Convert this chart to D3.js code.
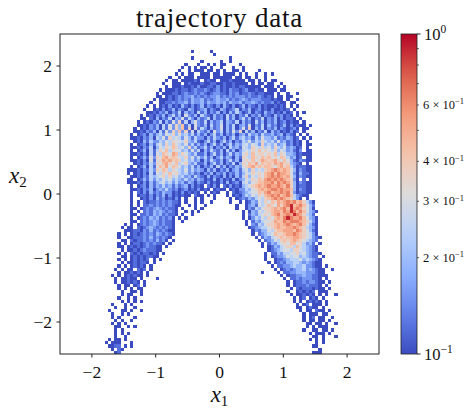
<!DOCTYPE html>
<html>
<head>
<meta charset="utf-8">
<script src="https://cdn.jsdelivr.net/npm/d3@7"></script>
<style>
  body { margin: 0; background: #fff; }
  text { font-family: "Liberation Serif", "DejaVu Serif", serif; fill: #111; }
</style>
</head>
<body>
<svg id="chart" width="474" height="415"></svg>
<script>
// 2d histogram, 100 x 100 bins on [-2.5, 2.5] x [-2.5, 2.5]
const xDomain = [-2.5, 2.5];
const yDomain = [-2.5, 2.5];
const binWidth = 0.05;
const colorDomain = [0.1, 1];

// level codes used in the row strings ('.' = empty bin) and their values
const levelCodes = "0123456789a";
const levelValues = [0.10, 0.12, 0.15, 0.19, 0.24, 0.30, 0.37, 0.44, 0.52, 0.64, 0.90];

// [row from top, first column, level codes]
const cellRows = [
  [5, 41, "0.....0"],
  [6, 48, "0"],
  [7, 41, "0...........0"],
  [8, 44, "0.....0..0"],
  [9, 39, "0...0..0.0.00....0"],
  [10, 38, "0.0.0.00.0..0...0..0"],
  [11, 37, "0..0.000.00.0.0..00.0....0"],
  [12, 36, "0.0.00..000.00.0000.0.0..0..0.0"],
  [13, 34, "0..0.000.0000.000000.00.00.0..0"],
  [14, 33, "0.00.000010.0100.00010000.00.0.0.00"],
  [15, 32, "0..000.01000100110010010000.0.00.00..0"],
  [16, 32, ".0.0001001020011020100101100000.000.0.0"],
  [17, 31, "0.0001011012112101201021101200100.000.00"],
  [18, 30, "0.00011012112121012211021201121011000.0..0..0"],
  [19, 30, "00.0101212231212122312121222121121010.00.00"],
  [20, 29, "0.000101212132231212322312123212221110100.0..0"],
  [21, 28, "0..0011212231322313223231322312232121120100.00"],
  [22, 27, "0.0.0102010310201302102031020130210201001010.0.0"],
  [23, 26, "0..0102013021032012302103201240213012010200101.0."],
  [24, 26, ".0010213021403120413021302031420130210312010201.0.0"],
  [25, 25, "0.0102130241305213042103120413021402130210312010.0."],
  [26, 25, "00.1030214032514203124031204130241302140213020110.0"],
  [27, 24, "0.0102140315261403521403124032140312041302130120100.0"],
  [28, 24, "00102130415263714052130412503140231502140312013020100.0"],
  [29, 23, "0.01021304152637160514203125031402516031402130210120.00"],
  [30, 23, "0010213041526372615042130524031526041302140312010201.0"],
  [31, 22, "0.01203134254635342413130241302130231423142231230210.0.0."],
  [32, 22, "00102130435264542531422031421302413423142533241213201.0.0"],
  [33, 22, ".01031422435465546324102413024130214352436434252312010.0."],
  [34, 22, "0.0120314536475435241313024130241324535426343523412010.00"],
  [35, 22, "001021403546576453624124130213042315436546453643523201.0."],
  [36, 22, "0.0130414657465534252403142130413024546575654635423102.00"],
  [37, 22, "001020415476587465324113024130241325647566565746533201000"],
  [38, 22, "0.0131526578676546352424130241320316547657675657642301.00"],
  [39, 22, "001020515687867645342303142130241305657568767865753102100"],
  [40, 22, ".01021426578657456324113024130214036576857676878663210.0."],
  [41, 22, "0.0130415768576534241302130413021325678676776578674201100"],
  [42, 21, "0001021426576465435242320313021302314536454678987875302100"],
  [43, 21, "0.01020415465756434231202130213021313546565789798875203110"],
  [44, 21, ".001021434564645342314210302103020314635465789898785302100"],
  [45, 21, "00.013142435453432423132010302010302354657689898987620.1.0"],
  [46, 21, "0001020313453424231320210201020301204535677889798986302100"],
  [47, 22, "0.012031324231312302010.1020.1020103456787898898796301100"],
  [48, 22, "0010213023242120120102010.0100.01022435678789989887302100"],
  [49, 22, "0.10203121322010201010.0.010..0.1012345576897889896201100"],
  [50, 22, "0.01102021302010100.100.0.0...0.010243546578989789742100"],
  [51, 22, "0..0102031201020.0..0.0...0....0.012132454678989876420.0"],
  [52, 22, "0.0.101121212110.0..0.0..0"],
  [52, 53, "0..0.0132546576878989786420"],
  [53, 22, "0.0.112121212100..0.0..0"],
  [53, 54, ".0..02315457658689a7897531"],
  [54, 22, "00.012123212110.0...0.0"],
  [54, 55, "0..02143566787897a8986530"],
  [55, 22, "0.0.12132321210..0.0.0"],
  [55, 56, ".0.0325456788798a97975320"],
  [56, 22, "00.112132312110.0..0"],
  [56, 57, "0.13245657897898a986431"],
  [57, 22, "0.012132312120.0.0"],
  [57, 57, "0.024354657879a988975320"],
  [58, 22, "00.12123212110..0"],
  [58, 57, ".0.132455687798999876420"],
  [59, 20, "0.0.012123212110"],
  [59, 58, "0.214356678789878975310"],
  [60, 19, "0.00.101232121210"],
  [60, 59, "0123445678778898764320"],
  [61, 19, ".0001102131212100"],
  [61, 60, "021335467788879865310"],
  [62, 18, "0.0.01012121321210"],
  [62, 60, "0.1234576678898765420"],
  [63, 18, "0..00111213121210."],
  [63, 61, "0.1324567677887654210"],
  [64, 18, ".00.101121213120.0"],
  [64, 62, "0.12354676787654321"],
  [65, 18, "0.0.01101212110.0"],
  [65, 63, "0.132456577564231.0"],
  [66, 18, "00.01010121100.0"],
  [66, 63, "0.0132456647543210"],
  [67, 18, ".0.00101211100."],
  [67, 63, "..0123455466543210"],
  [68, 18, "0.0.101011010.0"],
  [68, 64, "0.1132445564532110"],
  [69, 18, ".00.010101100"],
  [69, 64, "0.012235455343211.0"],
  [70, 18, "0.0.010101.0.0"],
  [70, 64, "0..011234445343210"],
  [71, 18, ".0.0010110.0"],
  [71, 65, "0.012133443232100"],
  [72, 18, "0.0.01010.0"],
  [72, 66, "0.11223433422100.0"],
  [73, 17, "0.0.00.101.0"],
  [73, 67, "0.01212334232100..0"],
  [74, 17, ".0.001010.0"],
  [74, 63, "0....0.1122333222100"],
  [75, 16, "0.0.010100.0"],
  [75, 69, "0.0112232211000"],
  [76, 16, ".0.00100.0....0"],
  [76, 70, "0.1121222110.0"],
  [77, 17, "0.001010.0"],
  [77, 70, ".0.0112122100.0"],
  [78, 17, ".0.00.01.0"],
  [78, 71, "0.011121110.0"],
  [79, 18, "0.0.0.00"],
  [79, 71, ".0.101110100.0"],
  [80, 18, ".0..00.0"],
  [80, 71, "0..010101.000"],
  [81, 19, "0.00..0"],
  [81, 72, "0.001010.0.0..0"],
  [82, 18, "0..0.0"],
  [82, 72, ".0.01.010.0"],
  [83, 19, "0.0.0.0"],
  [83, 73, "0.0.01010.0"],
  [84, 16, "0...0.0"],
  [84, 74, "0.01.000.0"],
  [85, 16, ".0..0..0"],
  [85, 74, "00.0100.0"],
  [86, 15, "0...00.0..0"],
  [86, 75, "0.00.100.0"],
  [87, 16, "0..0.0"],
  [87, 75, ".0.000.00"],
  [88, 16, "0.0....0"],
  [88, 76, "0.01.00..0"],
  [89, 17, "0.0..0"],
  [89, 76, "0.00.00.0"],
  [90, 16, "0.0.0"],
  [90, 77, "00.00.0..0"],
  [91, 17, "00..0.0"],
  [91, 77, "0.0.000"],
  [92, 17, "0.0"],
  [92, 76, "0..00.00.0"],
  [93, 16, ".0.0.0"],
  [93, 78, "0.000.0"],
  [94, 17, "0..0"],
  [94, 78, ".00.0...0"],
  [95, 15, "0.00.0"],
  [95, 78, "0.0.0"],
  [96, 14, "0.000...0"],
  [96, 80, "0.0"],
  [97, 15, "0011.0.0"],
  [97, 79, "00"],
  [98, 16, "0.10"],
  [98, 81, "0"],
  [99, 17, "01"],
  [99, 79, "000"]
];

const xTicks = [-2, -1, 0, 1, 2];
const yTicks = [-2, -1, 0, 1, 2];
const cbarMajor = [0.1, 1];
const cbarMinor = [0.2, 0.3, 0.4, 0.5, 0.6, 0.7, 0.8, 0.9];
const cbarMinorLabels = [[0.2, "2"], [0.3, "3"], [0.4, "4"], [0.6, "6"]];
const coolwarmStops = ["#3b4cc0", "#6282ea", "#8db0fe", "#b8d0f9", "#dddcdc",
                       "#f5c4ac", "#f49a7b", "#dc5d4a", "#b40426"];

const svg = d3.select("#chart");
const frame = {left: 60, right: 379, top: 34, bottom: 354};

const x = d3.scaleLinear().domain(xDomain).range([frame.left, frame.right]);
const y = d3.scaleLinear().domain(yDomain).range([frame.bottom, frame.top]);
const norm = d3.scaleLog().domain(colorDomain).range([0, 1]).clamp(true);
const coolwarm = d3.scaleLinear()
  .domain(coolwarmStops.map((c, k) => k / (coolwarmStops.length - 1)))
  .range(coolwarmStops);

// turn the row strings into bins
let cells = [];
for (const [row, col0, codes] of cellRows) {
  for (let k = 0; k < codes.length; k++) {
    if (codes[k] === ".") continue;
    const col = col0 + k;
    cells.push({
      x0: xDomain[0] + col * binWidth,
      x1: xDomain[0] + (col + 1) * binWidth,
      y1: yDomain[1] - row * binWidth,
      y0: yDomain[1] - (row + 1) * binWidth,
      v: levelValues[levelCodes.indexOf(codes[k])]
    });
  }
}

svg.append("g")
  .selectAll("rect")
  .data(cells)
  .join("rect")
  .attr("x", d => x(d.x0))
  .attr("y", d => y(d.y1))
  .attr("width", d => x(d.x1) - x(d.x0))
  .attr("height", d => y(d.y0) - y(d.y1))
  .attr("fill", d => coolwarm(norm(d.v)))
  .attr("shape-rendering", "crispEdges");

// frame
svg.append("rect")
  .attr("x", frame.left)
  .attr("y", frame.top)
  .attr("width", frame.right - frame.left)
  .attr("height", frame.bottom - frame.top)
  .attr("fill", "none")
  .attr("stroke", "#222")
  .attr("stroke-width", 1);

// x ticks
for (const t of xTicks) {
  svg.append("line")
    .attr("x1", x(t)).attr("x2", x(t))
    .attr("y1", frame.bottom).attr("y2", frame.bottom + 3.5)
    .attr("stroke", "#222");
  svg.append("text")
    .attr("x", x(t))
    .attr("y", 378)
    .text(t < 0 ? "\u2212" + Math.abs(t) : t)
    .style("text-anchor", "middle")
    .style("font-size", 17.5);
}

// y ticks
for (const t of yTicks) {
  svg.append("line")
    .attr("x1", frame.left - 3.5).attr("x2", frame.left)
    .attr("y1", y(t)).attr("y2", y(t))
    .attr("stroke", "#222");
  svg.append("text")
    .attr("x", 52)
    .attr("y", y(t) + 5.5)
    .text(t < 0 ? "\u2212" + Math.abs(t) : t)
    .style("text-anchor", "end")
    .style("font-size", 17.5);
}

// title
svg.append("text")
  .attr("x", (frame.left + frame.right) / 2)
  .attr("y", 27)
  .text("trajectory data")
  .style("text-anchor", "middle")
  .style("letter-spacing", "0.8px")
  .style("font-size", 27);

// axis labels
let xl = svg.append("text")
  .attr("x", (frame.left + frame.right) / 2)
  .attr("y", 402)
  .style("text-anchor", "middle");
xl.append("tspan").text("x").style("font-style", "italic").style("font-size", 23);
xl.append("tspan").text("1").attr("dy", 4).style("font-size", 15);

let yl = svg.append("text")
  .attr("x", 9)
  .attr("y", 183);
yl.append("tspan").text("x").style("font-style", "italic").style("font-size", 23);
yl.append("tspan").text("2").attr("dy", 4).style("font-size", 15);

// colorbar
const cb = {left: 401, right: 417};
const cbY = d3.scaleLog().domain(colorDomain).range([frame.bottom, frame.top]);
const grad = svg.append("defs").append("linearGradient")
  .attr("id", "coolwarm")
  .attr("x1", 0).attr("y1", 1).attr("x2", 0).attr("y2", 0);
d3.range(0, 1.0001, 0.05).forEach(t => {
  grad.append("stop").attr("offset", t).attr("stop-color", coolwarm(t));
});
svg.append("rect")
  .attr("x", cb.left)
  .attr("y", frame.top)
  .attr("width", cb.right - cb.left)
  .attr("height", frame.bottom - frame.top)
  .attr("fill", "url(#coolwarm)")
  .attr("stroke", "#222")
  .attr("stroke-width", 0.8);

for (const v of cbarMajor) {
  svg.append("line")
    .attr("x1", cb.right).attr("x2", cb.right + 3.5)
    .attr("y1", cbY(v)).attr("y2", cbY(v))
    .attr("stroke", "#222");
  let lab = svg.append("text")
    .attr("x", cb.right + 7)
    .attr("y", cbY(v) + 6);
  lab.append("tspan").text("10").style("font-size", 16.5);
  lab.append("tspan").text(v === 1 ? "0" : "\u22121").attr("dy", -7).style("font-size", 11.5);
}
for (const v of cbarMinor) {
  svg.append("line")
    .attr("x1", cb.right).attr("x2", cb.right + 2)
    .attr("y1", cbY(v)).attr("y2", cbY(v))
    .attr("stroke", "#222")
    .attr("stroke-width", 0.7);
}
for (const [v, m] of cbarMinorLabels) {
  let lab = svg.append("text")
    .attr("x", cb.right + 6)
    .attr("y", cbY(v) + 4);
  lab.append("tspan").text(m + " \u00d7 10").style("font-size", 12.5);
  lab.append("tspan").text("\u22121").attr("dy", -4.5).style("font-size", 8.5);
}
</script>
</body>
</html>
